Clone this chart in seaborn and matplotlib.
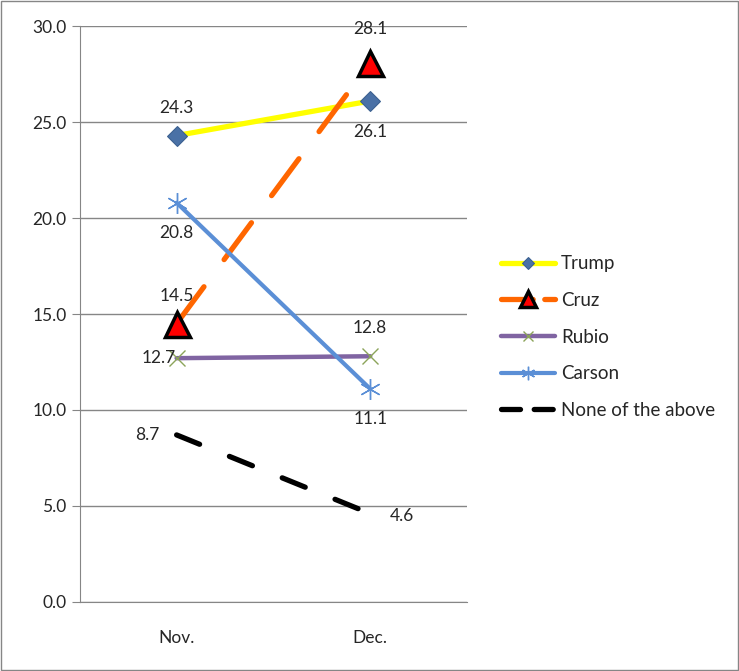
import numpy as np
import pandas as pd
import matplotlib
matplotlib.use("Agg")
import matplotlib.pyplot as plt
import seaborn as sns

months = ["Nov.", "Dec."]
trump = [24.3, 26.1]
cruz = [14.5, 28.1]
rubio = [12.7, 12.8]
carson = [20.8, 11.1]
none_above = [8.7, 4.6]
y_ticks = [0, 5, 10, 15, 20, 25, 30]

sns.set_style("white")
plt.rcParams['font.family'] = ['Lato', 'DejaVu Sans']

fig = plt.figure(figsize=(7.39, 6.71), dpi=100)
ax = fig.add_axes([0.108, 0.103, 0.524, 0.858])

x = np.arange(len(months))

series = [
    ("Trump", trump, 3.8, dict(color="#FFFF00", marker="D", markersize=10, markerfacecolor="#4A71A6",
                               markeredgecolor="#3A5F8F", linestyle="-")),
    ("Cruz", cruz, 3.8, dict(color="#FF6600", marker="^", markersize=18, markerfacecolor="#FF0000",
                             markeredgecolor="black", markeredgewidth=2.5, linestyle=(0, (8.7, 6.4)))),
    ("Rubio", rubio, 3.2, dict(color="#8064A2", marker="x", markersize=11, markeredgecolor="#8CA45A",
                               markeredgewidth=1.0, linestyle="-")),
    ("Carson", carson, 3.0, dict(color="#5B8FD6", marker=(6, 2, 0), markersize=15, markeredgecolor="#5B8FD6",
                                 markeredgewidth=1.0, linestyle="-")),
    ("None of the above", none_above, 3.8, dict(color="black", marker=None, linestyle=(0, (4.7, 6.1)))),
]

for name, vals, lw, style in series:
    ls = style.pop("linestyle")
    sns.lineplot(x=x, y=vals, ax=ax, label=name, linewidth=lw, **style)
    ax.lines[-1].set_linestyle(ls)
    ax.lines[-1].set_dash_capstyle("round")

# data labels
fs = 12.5
ax.annotate("24.3", (0, 24.3), xytext=(0, 20), textcoords="offset points", ha="center", va="center", fontsize=fs)
ax.annotate("26.1", (1, 26.1), xytext=(0, -22), textcoords="offset points", ha="center", va="center", fontsize=fs)
ax.annotate("14.5", (0, 14.5), xytext=(0, 20), textcoords="offset points", ha="center", va="center", fontsize=fs)
ax.annotate("28.1", (1, 28.1), xytext=(0, 24), textcoords="offset points", ha="center", va="center", fontsize=fs)
ax.annotate("12.7", (0, 12.7), xytext=(-13, 0), textcoords="offset points", ha="center", va="center", fontsize=fs)
ax.annotate("12.8", (1, 12.8), xytext=(0, 20), textcoords="offset points", ha="center", va="center", fontsize=fs)
ax.annotate("20.8", (0, 20.8), xytext=(0, -22), textcoords="offset points", ha="center", va="center", fontsize=fs)
ax.annotate("11.1", (1, 11.1), xytext=(0, -22), textcoords="offset points", ha="center", va="center", fontsize=fs)
ax.annotate("8.7", (0, 8.7), xytext=(-21, 0), textcoords="offset points", ha="center", va="center", fontsize=fs)
ax.annotate("4.6", (1, 4.6), xytext=(23, -2), textcoords="offset points", ha="center", va="center", fontsize=fs)

ax.set_xlim(-0.5, 1.5)
ax.set_ylim(0, 30)
ax.set_yticks(y_ticks)
ax.set_yticklabels([f"{v:.1f}" for v in y_ticks], fontsize=fs)
ax.set_xticks(x)
ax.set_xticklabels(months, fontsize=fs)
ax.set_xticks([-0.5, 0.5, 1.5], minor=True)
ax.tick_params(axis="x", which="major", length=0, pad=20)
ax.tick_params(axis="x", which="minor", length=6, direction="out", color="#868686")
ax.tick_params(axis="y", length=6, direction="out", color="#868686", left=True)
ax.yaxis.grid(True, color="#868686", linewidth=1)
ax.set_axisbelow(True)
for side in ["top", "right"]:
    ax.spines[side].set_visible(False)
for side in ["left", "bottom"]:
    ax.spines[side].set_color("#868686")

leg = ax.legend(loc="center left", bbox_to_anchor=(1.044, 0.46), frameon=False, fontsize=13.5,
                handlelength=2.9, labelspacing=1.05, handletextpad=0.3, markerscale=0.65)
handles = leg.get_lines()
handles[1].set_dashes((6.0, 2.2))
handles[4].set_dashes((3.6, 2.6))
for h in handles:
    h.set_dash_capstyle("round")

fig.patches.append(plt.Rectangle((0.001, 0.001), 0.997, 0.997, transform=fig.transFigure,
                                 fill=False, edgecolor="#868686", linewidth=1))

fig.savefig("out.png", dpi=100)
